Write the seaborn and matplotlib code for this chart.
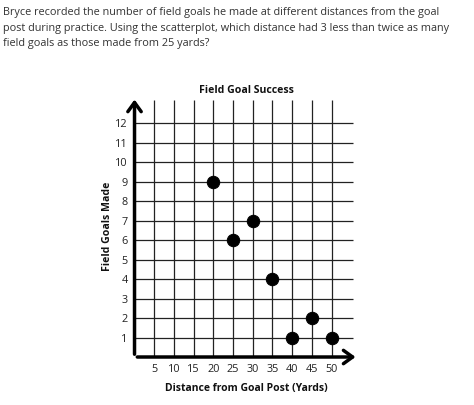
import matplotlib
matplotlib.use("Agg")
import matplotlib.pyplot as plt
import seaborn as sns
import pandas as pd

distance = [20, 25, 30, 35, 40, 45, 50]
goals_made = [9, 6, 7, 4, 1, 2, 1]
x_ticks = [5, 10, 15, 20, 25, 30, 35, 40, 45, 50]
y_ticks = [1, 2, 3, 4, 5, 6, 7, 8, 9, 10, 11, 12]

question = ("Bryce recorded the number of field goals he made at different distances from the goal\n"
            "post during practice. Using the scatterplot, which distance had 3 less than twice as many\n"
            "field goals as those made from 25 yards?")

df = pd.DataFrame({"Distance": distance, "Goals": goals_made})

sns.set_theme(style="white")
plt.rcParams["font.family"] = ["Open Sans", "DejaVu Sans"]

fig = plt.figure(figsize=(4.74, 4.05), dpi=100)
ax = fig.add_axes([0.2838, 0.1185, 0.4738, 0.645])
ax.set_xlim(0, 57)
ax.set_ylim(0, 13.4)

# grid
ax.vlines(x_ticks, 0, 13.2, color="#222222", lw=0.9, zorder=1)
ax.hlines(y_ticks, 0, 55.4, color="#222222", lw=0.9, zorder=1)

# axes with arrows
ax.annotate("", xy=(0, 13.35), xytext=(0, 0),
            arrowprops=dict(arrowstyle="->,head_length=0.55,head_width=0.4", lw=2.5, color="black"),
            annotation_clip=False)
ax.annotate("", xy=(56.8, 0), xytext=(0, 0),
            arrowprops=dict(arrowstyle="->,head_length=0.55,head_width=0.4", lw=2.5, color="black"),
            annotation_clip=False)

sns.scatterplot(data=df, x="Distance", y="Goals", ax=ax, color="black", s=80,
                edgecolor="black", zorder=3, clip_on=False)

for sp in ax.spines.values():
    sp.set_visible(False)

ax.set_xticks(x_ticks)
ax.set_yticks(y_ticks)
ax.tick_params(axis="both", direction="in", length=4.5, width=2.8, color="black",
               labelsize=7.8, labelcolor="#222222")
ax.tick_params(axis="x", pad=5)
ax.tick_params(axis="y", pad=5)

ax.set_xlabel("Distance from Goal Post (Yards)", fontsize=7.5, fontweight="bold",
              color="#111111", labelpad=6)
ax.set_ylabel("Field Goals Made", fontsize=7.6, fontweight="bold", color="#111111", labelpad=1.5)
ax.set_title("Field Goal Success", fontsize=7.6, fontweight="bold", color="#111111", pad=2)

fig.text(0.006, 0.982, question, fontsize=7.85, color="#333333", va="top", ha="left",
         linespacing=1.55)

fig.savefig("out.png", dpi=100)
